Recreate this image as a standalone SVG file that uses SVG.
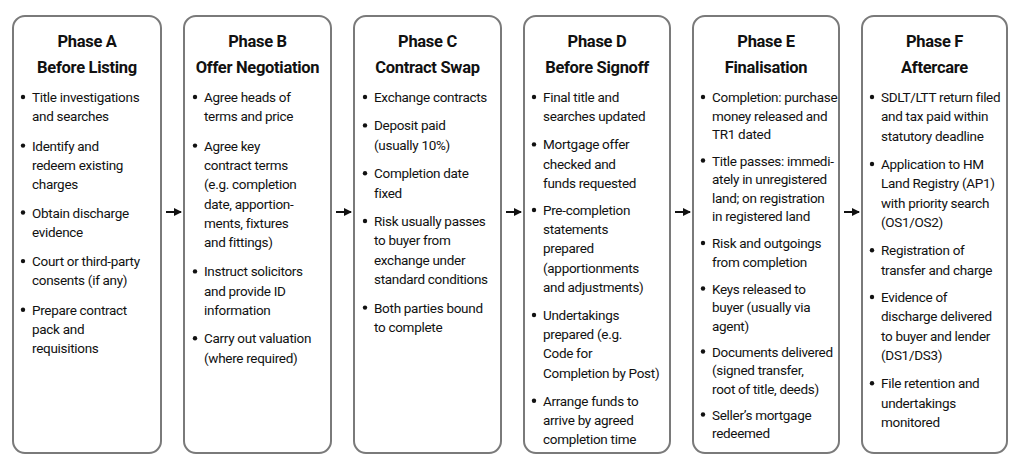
<svg xmlns="http://www.w3.org/2000/svg" width="1024" height="471" viewBox="0 0 1024 471">
<defs>
<style>
.box{fill:#fff;stroke:#7a7a7a;stroke-width:2}
.t{font-family:Roboto,"Liberation Sans",sans-serif;font-weight:bold;font-size:16.5px;text-anchor:middle;fill:#111;letter-spacing:-0.3px}
.b{font-family:Roboto,"Liberation Sans",sans-serif;font-size:13.5px;fill:#111;letter-spacing:-0.3px}
.c{stroke:#111;stroke-width:2;fill:none}
</style>
<marker id="ah" markerWidth="8" markerHeight="8" refX="7" refY="4" orient="auto" markerUnits="userSpaceOnUse"><path d="M0,0 L8,4 L0,8 z" fill="#111"/></marker>
</defs>
<g id="connectors">
<line class="c" x1="166" y1="212" x2="181" y2="212" marker-end="url(#ah)"/>
<line class="c" x1="336" y1="212" x2="351" y2="212" marker-end="url(#ah)"/>
<line class="c" x1="506" y1="212" x2="521" y2="212" marker-end="url(#ah)"/>
<line class="c" x1="675" y1="212" x2="690" y2="212" marker-end="url(#ah)"/>
<line class="c" x1="844" y1="212" x2="859" y2="212" marker-end="url(#ah)"/>
</g>
<g id="phaseA">
<rect class="box" x="13" y="16" width="148" height="437" rx="12"/>
<text class="t" x="87" y="47">Phase A</text><text class="t" x="87" y="73">Before Listing</text>
<g fill="#111"><circle cx="23" cy="97" r="2.2"/><circle cx="23" cy="145.6" r="2.2"/><circle cx="23" cy="212.5" r="2.2"/><circle cx="23" cy="261.1" r="2.2"/><circle cx="23" cy="309.7" r="2.2"/></g>
<text class="b"><tspan x="32" y="102">Title investigations</tspan><tspan x="32" dy="19.3">and searches</tspan>
<tspan x="32" y="150.6">Identify and</tspan><tspan x="32" dy="19.3">redeem existing</tspan><tspan x="32" dy="19.3">charges</tspan>
<tspan x="32" y="217.5">Obtain discharge</tspan><tspan x="32" dy="19.3">evidence</tspan>
<tspan x="32" y="266.1">Court or third-party</tspan><tspan x="32" dy="19.3">consents (if any)</tspan>
<tspan x="32" y="314.7">Prepare contract</tspan><tspan x="32" dy="19.3">pack and</tspan><tspan x="32" dy="19.3">requisitions</tspan></text>
</g>
<g id="phaseB">
<rect class="box" x="184" y="16" width="147" height="437" rx="12"/>
<text class="t" x="257.5" y="47">Phase B</text><text class="t" x="257.5" y="73">Offer Negotiation</text>
<g fill="#111"><circle cx="195" cy="97" r="2.2"/><circle cx="195" cy="145.6" r="2.2"/><circle cx="195" cy="271.4" r="2.2"/><circle cx="195" cy="338.3" r="2.2"/></g>
<text class="b"><tspan x="204" y="102">Agree heads of</tspan><tspan x="204" dy="19.3">terms and price</tspan>
<tspan x="204" y="150.6">Agree key</tspan><tspan x="204" dy="19.3">contract terms</tspan><tspan x="204" dy="19.3">(e.g. completion</tspan><tspan x="204" dy="19.3">date, apportion-</tspan><tspan x="204" dy="19.3">ments, fixtures</tspan><tspan x="204" dy="19.3">and fittings)</tspan>
<tspan x="204" y="276.4">Instruct solicitors</tspan><tspan x="204" dy="19.3">and provide ID</tspan><tspan x="204" dy="19.3">information</tspan>
<tspan x="204" y="343.3">Carry out valuation</tspan><tspan x="204" dy="19.3">(where required)</tspan></text>
</g>
<g id="phaseC">
<rect class="box" x="354" y="16" width="147" height="437" rx="12"/>
<text class="t" x="427.5" y="47">Phase C</text><text class="t" x="427.5" y="73">Contract Swap</text>
<g fill="#111"><circle cx="365" cy="97" r="2.2"/><circle cx="365" cy="125.4" r="2.2"/><circle cx="365" cy="173.2" r="2.2"/><circle cx="365" cy="221" r="2.2"/><circle cx="365" cy="307.6" r="2.2"/></g>
<text class="b"><tspan x="374" y="102">Exchange contracts</tspan>
<tspan x="374" y="130.4">Deposit paid</tspan><tspan x="374" dy="19.3">(usually 10%)</tspan>
<tspan x="374" y="178.2">Completion date</tspan><tspan x="374" dy="19.3">fixed</tspan>
<tspan x="374" y="226">Risk usually passes</tspan><tspan x="374" dy="19.3">to buyer from</tspan><tspan x="374" dy="19.3">exchange under</tspan><tspan x="374" dy="19.3">standard conditions</tspan>
<tspan x="374" y="313">Both parties bound</tspan><tspan x="374" dy="19.3">to complete</tspan></text>
</g>
<g id="phaseD">
<rect class="box" x="524" y="16" width="146" height="437" rx="12"/>
<text class="t" x="597" y="47">Phase D</text><text class="t" x="597" y="73">Before Signoff</text>
<g fill="#111"><circle cx="534" cy="97" r="2.2"/><circle cx="534" cy="144.4" r="2.2"/><circle cx="534" cy="210" r="2.2"/><circle cx="534" cy="315" r="2.2"/><circle cx="534" cy="400.8" r="2.2"/></g>
<text class="b"><tspan x="543" y="102">Final title and</tspan><tspan x="543" dy="19.2">searches updated</tspan>
<tspan x="543" y="149.4">Mortgage offer</tspan><tspan x="543" dy="19.2">checked and</tspan><tspan x="543" dy="19.2">funds requested</tspan>
<tspan x="543" y="215">Pre-completion</tspan><tspan x="543" dy="19.2">statements</tspan><tspan x="543" dy="19.2">prepared</tspan><tspan x="543" dy="19.2">(apportionments</tspan><tspan x="543" dy="19.2">and adjustments)</tspan>
<tspan x="543" y="320">Undertakings</tspan><tspan x="543" dy="19.2">prepared (e.g.</tspan><tspan x="543" dy="19.2">Code for</tspan><tspan x="543" dy="19.2">Completion by Post)</tspan>
<tspan x="543" y="405.8">Arrange funds to</tspan><tspan x="543" dy="19.2">arrive by agreed</tspan><tspan x="543" dy="19.2">completion time</tspan></text>
</g>
<g id="phaseE">
<rect class="box" x="693" y="16" width="146" height="437" rx="12"/>
<text class="t" x="766" y="47">Phase E</text><text class="t" x="766" y="73">Finalisation</text>
<g fill="#111"><circle cx="703" cy="97" r="2.2"/><circle cx="703" cy="160.5" r="2.2"/><circle cx="703" cy="243" r="2.2"/><circle cx="703" cy="288.5" r="2.2"/><circle cx="703" cy="351.5" r="2.2"/><circle cx="703" cy="414.5" r="2.2"/></g>
<text class="b"><tspan x="712" y="102">Completion: purchase</tspan><tspan x="712" dy="18.6">money released and</tspan><tspan x="712" dy="18.6">TR1 dated</tspan>
<tspan x="712" y="165.5">Title passes: immedi-</tspan><tspan x="712" dy="18.6">ately in unregistered</tspan><tspan x="712" dy="18.6">land; on registration</tspan><tspan x="712" dy="18.6">in registered land</tspan>
<tspan x="712" y="248">Risk and outgoings</tspan><tspan x="712" dy="18.6">from completion</tspan>
<tspan x="712" y="293.5">Keys released to</tspan><tspan x="712" dy="18.6">buyer (usually via</tspan><tspan x="712" dy="18.6">agent)</tspan>
<tspan x="712" y="356.5">Documents delivered</tspan><tspan x="712" dy="18.6">(signed transfer,</tspan><tspan x="712" dy="18.6">root of title, deeds)</tspan>
<tspan x="712" y="419.5">Seller’s mortgage</tspan><tspan x="712" dy="18.6">redeemed</tspan></text>
</g>
<g id="phaseF">
<rect class="box" x="862" y="16" width="145" height="437" rx="12"/>
<text class="t" x="934.5" y="47">Phase F</text><text class="t" x="934.5" y="73">Aftercare</text>
<g fill="#111"><circle cx="872" cy="97" r="2.2"/><circle cx="872" cy="164" r="2.2"/><circle cx="872" cy="250.2" r="2.2"/><circle cx="872" cy="297" r="2.2"/><circle cx="872" cy="383.2" r="2.2"/></g>
<text class="b"><tspan x="881" y="102">SDLT/LTT return filed</tspan><tspan x="881" dy="19.3">and tax paid within</tspan><tspan x="881" dy="19.3">statutory deadline</tspan>
<tspan x="881" y="169">Application to HM</tspan><tspan x="881" dy="19.3">Land Registry (AP1)</tspan><tspan x="881" dy="19.3">with priority search</tspan><tspan x="881" dy="19.3">(OS1/OS2)</tspan>
<tspan x="881" y="255.2">Registration of</tspan><tspan x="881" dy="19.3">transfer and charge</tspan>
<tspan x="881" y="302">Evidence of</tspan><tspan x="881" dy="19.3">discharge delivered</tspan><tspan x="881" dy="19.3">to buyer and lender</tspan><tspan x="881" dy="19.3">(DS1/DS3)</tspan>
<tspan x="881" y="388.2">File retention and</tspan><tspan x="881" dy="19.3">undertakings</tspan><tspan x="881" dy="19.3">monitored</tspan></text>
</g>
</svg>
